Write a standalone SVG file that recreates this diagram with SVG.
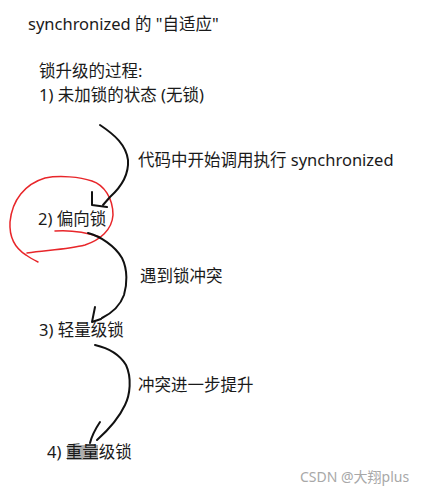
<svg xmlns="http://www.w3.org/2000/svg" width="437" height="495" viewBox="0 0 437 495">
<style>
text{font-family:"Noto Sans","Noto Sans CJK SC",sans-serif;font-size:16.5px;fill:#1a1a1a}
.ink{fill:none;stroke:#111;stroke-width:2;stroke-linecap:round;stroke-linejoin:round}
.red{fill:none;stroke:#e8262a;stroke-width:1.5;stroke-linecap:round;stroke-linejoin:round}
.wm{font-size:14px;fill:#a8a8a8}
</style>
<rect width="437" height="495" fill="#fff"/>
<text x="28" y="30">synchronized 的 "自适应"</text>
<text x="39" y="77">锁升级的过程:</text>
<g id="n1"><text x="39" y="100.5">1) 未加锁的状态 (无锁)</text></g>
<g id="n2"><text x="38" y="225">2) 偏向锁</text></g>
<g id="n3"><text x="39" y="336">3) 轻量级锁</text></g>
<g id="n4"><rect x="67" y="445" width="31" height="15" fill="#8a8a8a" opacity="0.7"/><text x="47" y="458">4) 重量级锁</text></g>
<g id="labels">
<text x="138" y="166">代码中开始调用执行 synchronized</text>
<text x="140" y="282">遇到锁冲突</text>
<text x="138" y="391">冲突进一步提升</text>
</g>
<g id="highlight">
<path class="red" d="M55,231 C68,230 85,232 100,237"/>
<path class="red" d="M27,253 C50,250 70,249 85,245 C100,240 112,230 113,215 C113,198 104,185 92,181 C80,177 60,175 45,178 C25,184 12,200 10,222 C9,240 18,250 26,255 C30,258 34,260 38,262"/>
</g>
<g id="connectors">
<path class="ink" d="M100,125 C115,135 126,145 128,160 C129,175 120,188 110,197 L103,205"/>
<path class="ink" d="M92,192 L92,205 L107,207"/>
<path class="ink" d="M88,233 C100,236 115,246 122,258 C128,270 127,285 124,295 C120,306 110,314 102,318"/>
<path class="ink" d="M95,307 L92,322 L101,319"/>
<path class="ink" d="M95,345 C108,348 120,355 126,365 C132,378 130,395 125,405 C118,420 106,432 97,440"/>
<path class="ink" d="M100,422 C96,428 92,435 90,443"/>
</g>
<text class="wm" x="300" y="482">CSDN @大翔plus</text>
</svg>
